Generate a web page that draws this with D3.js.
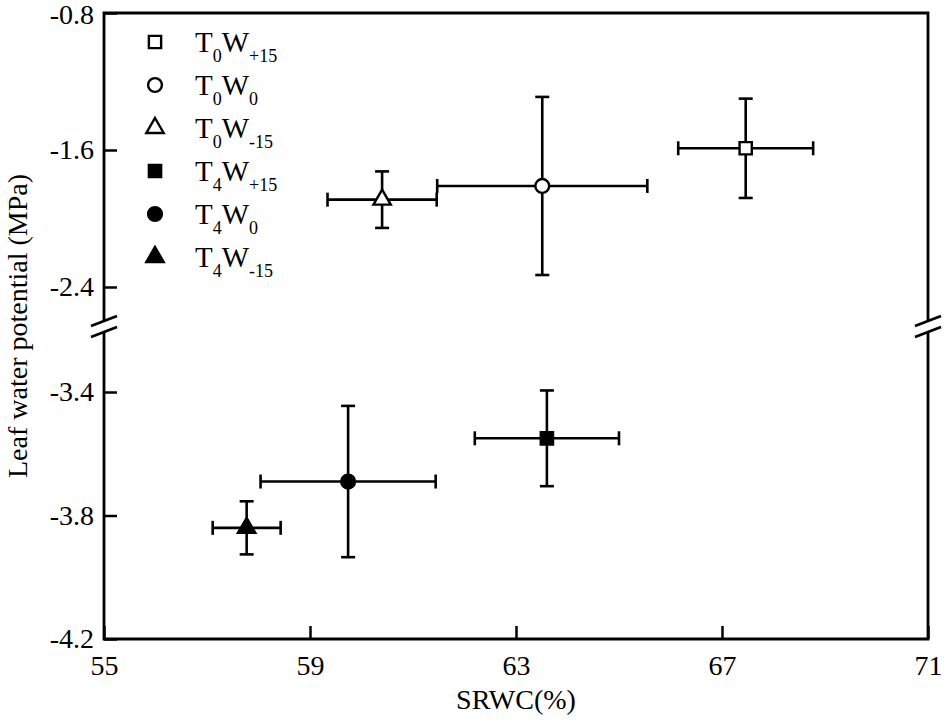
<!DOCTYPE html>
<html>
<head>
<meta charset="utf-8">
<script src="https://cdn.jsdelivr.net/npm/d3@7"></script>
<style>
  body { margin: 0; background: #fff; }
  svg text { font-family: "Liberation Serif", "Times New Roman", Times, serif !important; fill: #000; }
</style>
</head>
<body>
<div class="container"></div>
<script>
const WIDTH = 946;
const HEIGHT = 723;

// treatments: T = temperature, W = watering
var groups = ['T0W+15', 'T0W0', 'T0W-15', 'T4W+15', 'T4W0', 'T4W-15'];
var tPart = ['0', '0', '0', '4', '4', '4'];
var wPart = ['+15', '0', '-15', '+15', '0', '-15'];
var shapes = ['square', 'circle', 'triangle', 'square', 'circle', 'triangle'];
var filled = [false, false, false, true, true, true];

var srwc = [67.46, 63.51, 60.40, 63.60, 59.74, 57.77];
var srwcErr = [1.31, 2.04, 1.06, 1.40, 1.70, 0.66];
var lwp = [-1.59, -1.81, -1.89, -3.55, -3.69, -3.84];
var lwpErr = [0.29, 0.52, 0.165, 0.155, 0.245, 0.086];

var xTicks = [55, 59, 63, 67, 71];
var yTicksUpper = [-0.8, -1.6, -2.4];
var yTicksLower = [-3.4, -3.8, -4.2];

var LEFT = 104, RIGHT = 928, TOP = 13, BOTTOM = 639;
var BREAK_TOP = 321, BREAK_BOTTOM = 332;

var svg = d3.select('.container').append('svg')
  .attr('width', WIDTH)
  .attr('height', HEIGHT);

var xScale = d3.scaleLinear().domain([55, 71]).range([LEFT, RIGHT]);
var yUpper = d3.scaleLinear().domain([-0.8, -2.4]).range([TOP, 287]);
var yLower = d3.scaleLinear().domain([-3.4, -4.2]).range([392, BOTTOM]);

var yOf = function (v) { return v > -3 ? yUpper(v) : yLower(v); };

var translate = function (x, y) { return 'translate(' + x + ',' + y + ')'; };

// axes (ticks pointing inward)
var xAxis = d3.axisBottom(xScale).tickValues(xTicks).tickSizeInner(-13).tickSizeOuter(0).tickPadding(16)
  .tickFormat(d3.format('d'));
var yAxisU = d3.axisLeft(yUpper).tickValues(yTicksUpper).tickSizeInner(-13).tickSizeOuter(0).tickPadding(10)
  .tickFormat(d3.format('.1f'));
var yAxisL = d3.axisLeft(yLower).tickValues(yTicksLower).tickSizeInner(-13).tickSizeOuter(0).tickPadding(10)
  .tickFormat(d3.format('.1f'));

[[xAxis, translate(0, BOTTOM)], [yAxisU, translate(LEFT, 0)], [yAxisL, translate(LEFT, 0)]].forEach(function (a) {
  var g = svg.append('g').attr('transform', a[1]).call(a[0]);
  g.select('.domain').remove();
  g.attr('font-family', null);
  g.selectAll('.tick line').attr('stroke', '#000').attr('stroke-width', 2.5);
  g.selectAll('.tick text').attr('font-size', 28);
});
svg.selectAll('.tick text').each(function () {
  this.textContent = this.textContent.replace('\u2212', '-');
});
// keep the top label inside the picture
svg.selectAll('.tick text').filter(function (d) { return d === -0.8; }).attr('y', 2);

// frame with axis break
var frame = svg.append('g').attr('stroke', '#000').attr('stroke-width', 2.8).attr('fill', 'none');
frame.append('path').attr('d',
  'M' + LEFT + ',' + BREAK_TOP + 'V' + TOP + 'H' + RIGHT + 'V' + BREAK_TOP +
  'M' + LEFT + ',' + BREAK_BOTTOM + 'V' + BOTTOM + 'H' + RIGHT + 'V' + BREAK_BOTTOM);
[LEFT, RIGHT].forEach(function (x) {
  [BREAK_TOP, BREAK_BOTTOM].forEach(function (y) {
    frame.append('line')
      .attr('x1', x - 13).attr('y1', y + 5)
      .attr('x2', x + 13).attr('y2', y - 5);
  });
});

// error bars
var CAP = 7;
var bars = svg.append('g').attr('stroke', '#000').attr('stroke-width', 2.6);
groups.forEach(function (g, i) {
  var cx = xScale(srwc[i]), cy = yOf(lwp[i]);
  var x0 = xScale(srwc[i] - srwcErr[i]), x1 = xScale(srwc[i] + srwcErr[i]);
  var y0 = yOf(lwp[i] + lwpErr[i]), y1 = yOf(lwp[i] - lwpErr[i]);
  bars.append('line').attr('x1', x0).attr('x2', x1).attr('y1', cy).attr('y2', cy);
  bars.append('line').attr('x1', cx).attr('x2', cx).attr('y1', y0).attr('y2', y1);
  bars.append('line').attr('x1', x0).attr('x2', x0).attr('y1', cy - CAP).attr('y2', cy + CAP);
  bars.append('line').attr('x1', x1).attr('x2', x1).attr('y1', cy - CAP).attr('y2', cy + CAP);
  bars.append('line').attr('x1', cx - CAP).attr('x2', cx + CAP).attr('y1', y0).attr('y2', y0);
  bars.append('line').attr('x1', cx - CAP).attr('x2', cx + CAP).attr('y1', y1).attr('y2', y1);
});

var symbolFor = function (s) {
  if (s === 'square') return d3.symbol().type(d3.symbolSquare).size(150)();
  if (s === 'circle') return d3.symbol().type(d3.symbolCircle).size(150)();
  return d3.symbol().type(d3.symbolTriangle).size(130)();
};

svg.append('g').selectAll('path')
  .data(groups)
  .enter().append('path')
  .attr('d', function (d, i) { return symbolFor(shapes[i]); })
  .attr('transform', function (d, i) { return translate(xScale(srwc[i]), yOf(lwp[i])); })
  .attr('fill', function (d, i) { return filled[i] ? '#000' : '#fff'; })
  .attr('stroke', '#000')
  .attr('stroke-width', 2.4);

// legend
var legend = svg.append('g').attr('transform', translate(155, 42));
groups.forEach(function (g, i) {
  var row = legend.append('g').attr('transform', translate(0, i * 43));
  row.append('path')
    .attr('d', symbolFor(shapes[i]))
    .attr('fill', filled[i] ? '#000' : '#fff')
    .attr('stroke', '#000')
    .attr('stroke-width', 2.4);
  var t = row.append('text').attr('x', 40).attr('y', 10).attr('font-size', 29);
  t.append('tspan').text('T');
  t.append('tspan').attr('font-size', 18).attr('dy', 10).text(tPart[i]);
  t.append('tspan').attr('dy', -10).text('W');
  t.append('tspan').attr('font-size', 18).attr('dy', 10).text(wPart[i]);
});

// axis titles
svg.append('text')
  .attr('x', (LEFT + RIGHT) / 2).attr('y', 709)
  .attr('text-anchor', 'middle')
  .attr('font-size', 28)
  .text('SRWC(%)');

svg.append('text')
  .attr('transform', translate(27, 326) + ' rotate(-90)')
  .attr('text-anchor', 'middle')
  .attr('font-size', 28)
  .text('Leaf water potential (MPa)');
</script>
</body>
</html>
